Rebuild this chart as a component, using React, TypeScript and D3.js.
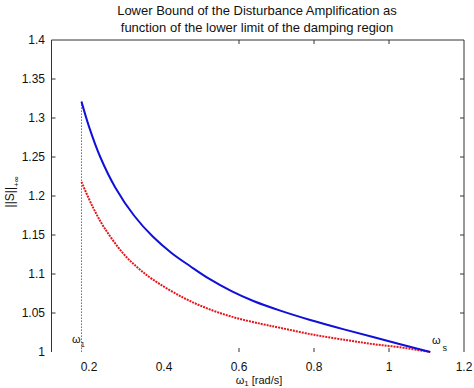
import React, {useEffect, useRef} from 'react';
import * as d3 from 'd3';

// omega_1 grid (rad/s) and the two bounds
const omega = [0.18, 0.20, 0.23, 0.27, 0.32, 0.37, 0.42, 0.47, 0.52, 0.58, 0.64, 0.71, 0.79, 0.88, 0.96, 1.03, 1.11];
const upperBound = [1.321, 1.289, 1.250, 1.211, 1.175, 1.148, 1.127, 1.110, 1.094, 1.078, 1.065, 1.053, 1.041, 1.029, 1.019, 1.010, 1.000];

const omegaRed = [0.18, 0.21, 0.24, 0.29, 0.33, 0.37, 0.45, 0.52, 0.59, 0.66, 0.71, 0.80, 0.89, 0.96, 1.03, 1.11];
const lowerBound = [1.218, 1.186, 1.160, 1.127, 1.108, 1.093, 1.070, 1.055, 1.044, 1.036, 1.031, 1.022, 1.015, 1.010, 1.006, 1.000];

const xTickLabels = [0.2, 0.4, 0.6, 0.8, 1, 1.2];
const xTickMarks = [0.6, 0.8, 1];
const yTickLabels = [1, 1.05, 1.1, 1.15, 1.2, 1.25, 1.3, 1.35, 1.4];
const yTickMarks = [1.05, 1.1, 1.15, 1.2, 1.25, 1.3, 1.35];

const App = () => {
  const ref = useRef<SVGSVGElement>(null);

  useEffect(() => {
    const svg = d3.select(ref.current);
    svg.selectAll('*').remove();

    const font = '"Liberation Sans", Arial, sans-serif';
    const x = d3.scaleLinear().domain([0.1, 1.2]).range([51.5, 464]);
    const y = d3.scaleLinear().domain([1, 1.4]).range([352, 40]);

    // title
    const title = svg.append('text')
      .attr('font-family', font)
      .attr('font-size', 13)
      .attr('text-anchor', 'middle')
      .attr('fill', '#111');
    title.append('tspan').attr('x', 257).attr('y', 15).text('Lower Bound of the Disturbance Amplification as');
    title.append('tspan').attr('x', 257).attr('y', 32).text('function of the lower limit of the damping region');

    const axisColor = '#333';
    // box: left, top, right (no bottom line in the original)
    svg.append('path')
      .attr('d', `M${x(0.1)},${y(1)}V${y(1.4)}H${x(1.2)}V${y(1)}`)
      .attr('fill', 'none')
      .attr('stroke', axisColor)
      .attr('stroke-width', 1);

    // y ticks on both sides, pointing in
    yTickMarks.forEach(v => {
      svg.append('line').attr('x1', x(0.1)).attr('x2', x(0.1) + 4)
        .attr('y1', y(v)).attr('y2', y(v)).attr('stroke', axisColor);
      svg.append('line').attr('x1', x(1.2)).attr('x2', x(1.2) - 4)
        .attr('y1', y(v)).attr('y2', y(v)).attr('stroke', axisColor);
    });
    // x ticks top and bottom
    xTickMarks.forEach(v => {
      svg.append('line').attr('x1', x(v)).attr('x2', x(v))
        .attr('y1', y(1.4)).attr('y2', y(1.4) + 4).attr('stroke', axisColor);
      svg.append('line').attr('x1', x(v)).attr('x2', x(v))
        .attr('y1', y(1) - 4).attr('y2', y(1)).attr('stroke', axisColor);
    });

    svg.selectAll('.ylab')
      .data(yTickLabels)
      .enter().append('text')
      .attr('class', 'ylab')
      .attr('x', 45)
      .attr('y', d => y(d) + 4)
      .attr('text-anchor', 'end')
      .attr('font-family', font)
      .attr('font-size', 12)
      .attr('fill', '#111')
      .text(d => String(d));

    svg.selectAll('.xlab')
      .data(xTickLabels)
      .enter().append('text')
      .attr('class', 'xlab')
      .attr('x', d => x(d))
      .attr('y', 371)
      .attr('text-anchor', 'middle')
      .attr('font-family', font)
      .attr('font-size', 12)
      .attr('fill', '#111')
      .text(d => String(d));

    // axis titles
    const xt = svg.append('text')
      .attr('x', 259).attr('y', 384)
      .attr('text-anchor', 'middle')
      .attr('font-family', font)
      .attr('font-size', 11)
      .attr('fill', '#111');
    xt.append('tspan').text('ω');
    xt.append('tspan').attr('font-size', 8).attr('dy', 2).text('1');
    xt.append('tspan').attr('dy', -2).text(' [rad/s]');

    const yt = svg.append('text')
      .attr('transform', 'translate(14,192) rotate(-90)')
      .attr('text-anchor', 'middle')
      .attr('font-family', font)
      .attr('font-size', 12)
      .attr('fill', '#111');
    yt.append('tspan').text('||S||');
    yt.append('tspan').attr('font-size', 8).attr('dy', 5).text('+∞');

    // dotted marker at the lower limit
    svg.append('line')
      .attr('x1', x(omega[0])).attr('x2', x(omega[0]))
      .attr('y1', y(upperBound[0])).attr('y2', y(1))
      .attr('stroke', '#222')
      .attr('stroke-width', 1)
      .attr('stroke-dasharray', '1,2');

    const line = d3.line<number>()
      .curve(d3.curveCatmullRom.alpha(0.5));

    svg.append('path')
      .attr('d', line.x((_, i) => x(omegaRed[i])).y(d => y(d))(lowerBound))
      .attr('fill', 'none')
      .attr('stroke', '#e8141c')
      .attr('stroke-width', 2)
      .attr('stroke-dasharray', '2,1');

    svg.append('path')
      .attr('d', line.x((_, i) => x(omega[i])).y(d => y(d))(upperBound))
      .attr('fill', 'none')
      .attr('stroke', '#1010d8')
      .attr('stroke-width', 2);

    // omega labels
    const w1 = svg.append('text')
      .attr('x', 72).attr('y', 343)
      .attr('font-family', font)
      .attr('font-size', 11)
      .attr('fill', '#111');
    w1.append('tspan').text('ω');
    w1.append('tspan').attr('font-size', 8).attr('dy', 4).text('1');

    const ws = svg.append('text')
      .attr('x', 432).attr('y', 344)
      .attr('font-family', font)
      .attr('font-size', 11)
      .attr('fill', '#111');
    ws.append('tspan').text('ω');
    ws.append('tspan').attr('font-size', 9).attr('dx', 2).attr('dy', 7).text('s');
  }, []);

  return (
    <svg ref={ref} width={474} height={388}
      style={{position: 'absolute', left: 0, top: 0, background: '#fff'}} />
  );
};

export default App;
